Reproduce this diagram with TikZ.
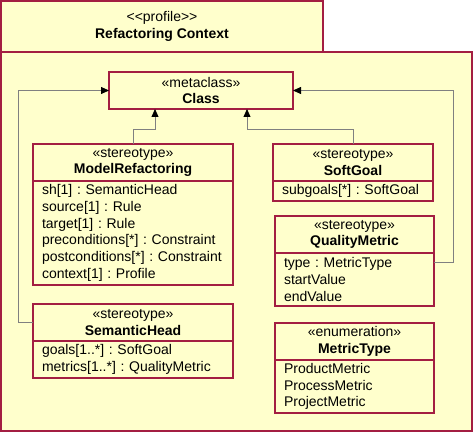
\documentclass[tikz,border=0pt]{standalone}
\usepackage{fontspec}
\setmainfont{Liberation Sans}
\usetikzlibrary{arrows.meta, positioning}
\definecolor{umlred}{RGB}{163,30,66}
\definecolor{umlfill}{RGB}{255,255,204}
\definecolor{linkgray}{RGB}{128,128,128}

\begin{document}
\begin{tikzpicture}[
  x=1pt, y=-1pt,
  font=\fontsize{14}{16.7}\selectfont\frenchspacing,
  pkg/.style={draw=umlred, fill=umlfill, line width=2pt, inner sep=0pt,
              outer sep=0pt, anchor=north west, align=center},
  head/.style={draw=umlred, fill=umlfill, line width=1.5pt, inner sep=0pt,
               outer sep=0pt, anchor=north west, align=center, minimum height=37pt},
  attrs/.style={draw=umlred, fill=umlfill, line width=1.5pt, inner xsep=9pt,
                inner ysep=3pt, outer sep=0pt, align=left},
  gen/.style={draw=linkgray, line width=0.8pt,
              -{Triangle[length=8pt, width=7pt, color=black]}}
]
  \useasboundingbox (0,0) rectangle (474,433);
  \node[pkg, minimum width=471pt, minimum height=379pt] (pkg) at (1,52) {};
  \node[pkg, minimum width=322pt, minimum height=51pt] (tab) at (1,1)
    {<\kern0pt<profile>\kern0pt>\\\textbf{Refactoring Context}};

  \node[head, minimum width=184pt] (cls) at (109,72)
    {«metaclass»\\\textbf{Class}};

  \node[head, minimum width=200pt] (mrh) at (33,144)
    {«stereotype»\\\textbf{ModelRefactoring}};
  \node[attrs, text width=182pt, minimum height=104pt, below=0pt of mrh] (mrb)
    {sh[1] : SemanticHead\\source[1] : Rule\\target[1] : Rule\\
     preconditions[*] : Constraint\\postconditions[*] : Constraint\\
     context[1] : Profile};

  \node[head, minimum width=160pt] (sgh) at (273,144)
    {«stereotype»\\\textbf{SoftGoal}};
  \node[attrs, text width=142pt, minimum height=20pt, below=0pt of sgh] (sgb)
    {subgoals[*] : SoftGoal};

  \node[head, minimum width=159pt] (qmh) at (275,216)
    {«stereotype»\\\textbf{QualityMetric}};
  \node[attrs, text width=141pt, minimum height=53pt, below=0pt of qmh] (qmb)
    {type : MetricType\\startValue\\endValue};

  \node[head, minimum width=200pt] (shh) at (33,304)
    {«stereotype»\\\textbf{SemanticHead}};
  \node[attrs, text width=182pt, minimum height=37pt, below=0pt of shh] (shb)
    {goals[1..*] : SoftGoal\\metrics[1..*] : QualityMetric};

  \node[head, minimum width=159pt] (mth) at (275,323)
    {«enumeration»\\\textbf{MetricType}};
  \node[attrs, text width=141pt, minimum height=53pt, below=0pt of mth] (mtb)
    {ProductMetric\\ProcessMetric\\ProjectMetric};

  \draw[gen] (mrh.north) -- ++(0,-15) -| ([xshift=-46pt]cls.south);
  \draw[gen] (sgh.north) -- ++(0,-15) -| ([xshift=46pt]cls.south);
  \draw[gen] (shh.west) -- ++(-15,0) |- (cls.west);
  \draw[gen] ([yshift=-9pt]qmb.north east) -- ++(19,0) |- (cls.east);
\end{tikzpicture}
\end{document}
